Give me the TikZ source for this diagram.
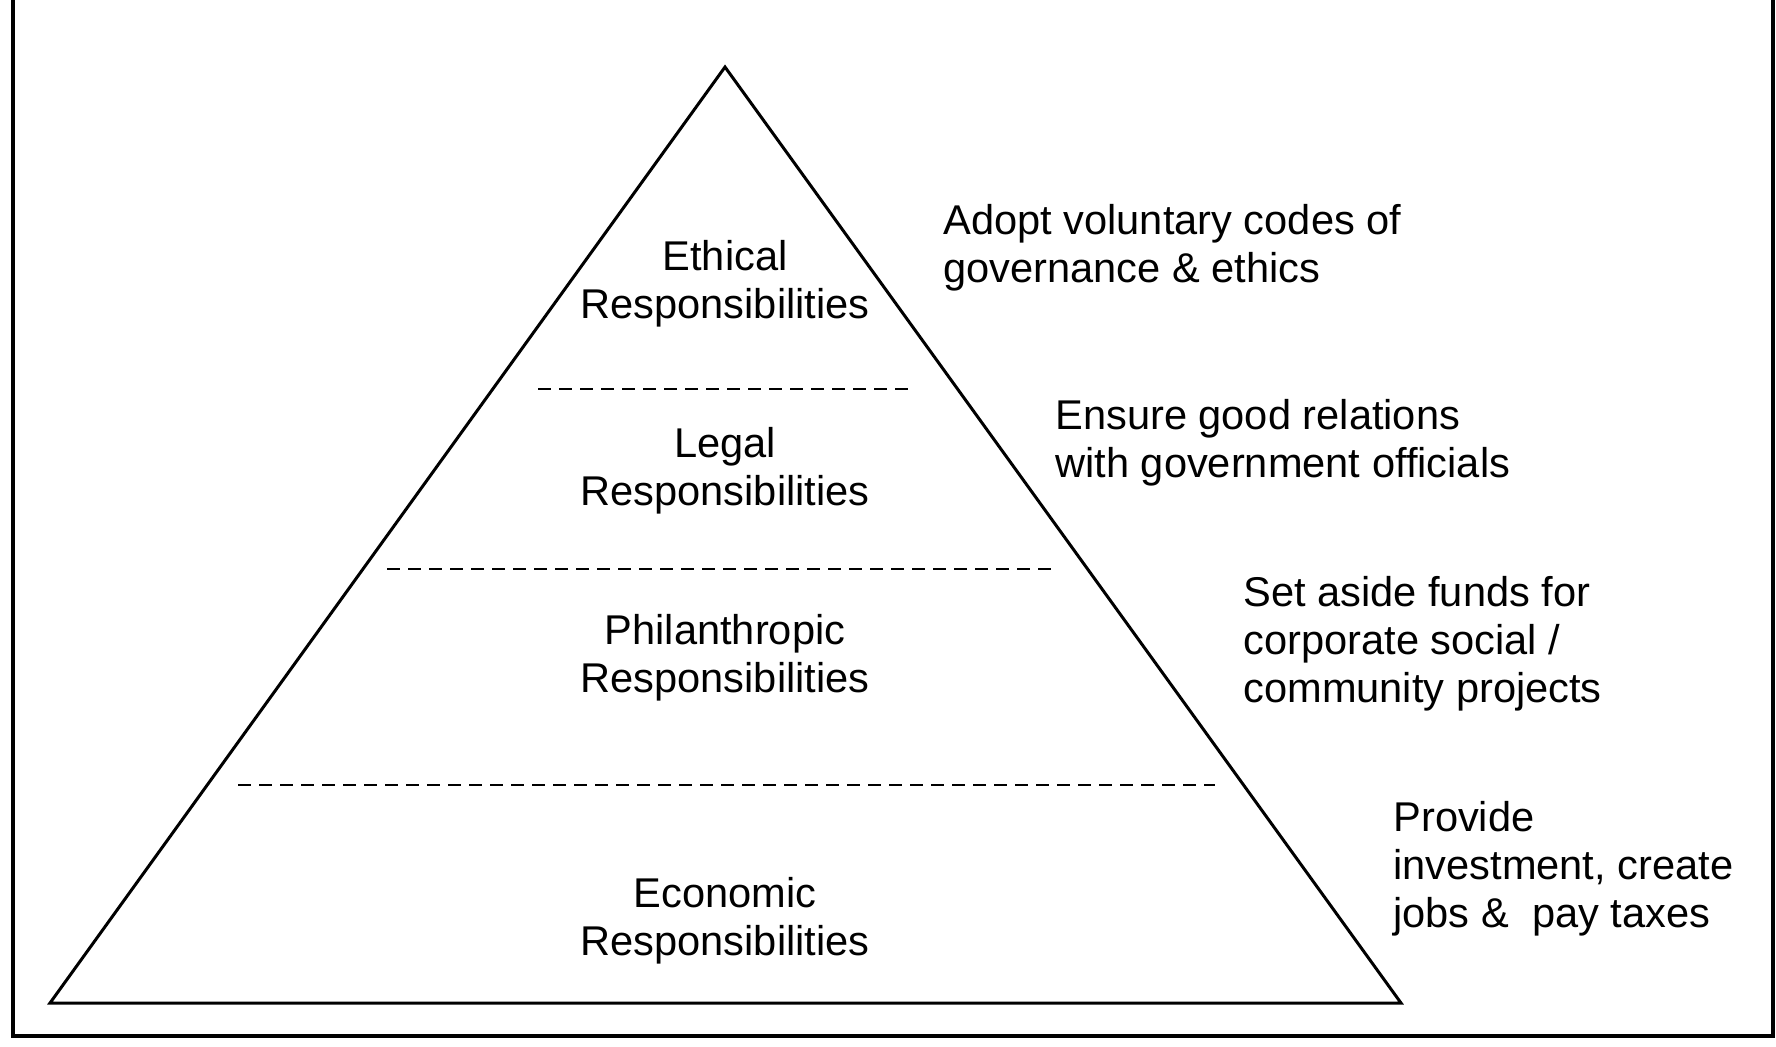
\documentclass[tikz,border=0pt]{standalone}
\usepackage{fontspec}
\setmainfont{Liberation Sans}
\usepackage{tikz}

\begin{document}
\begin{tikzpicture}[x=0.5pt, y=-0.5pt,
    tier/.style={align=center, anchor=base, inner sep=0pt, font=\fontsize{20.8}{24}\selectfont},
    note/.style={align=left, anchor=base west, inner sep=0pt, font=\fontsize{20.8}{24}\selectfont},
    divider/.style={line width=1.4pt, dash pattern=on 6.5pt off 4pt}]
    \useasboundingbox (0, 0) rectangle (1776, 1046);

    % frame, open at the top
    \draw[line width=2pt] (13, 0) -- (13, 1036) -- (1773, 1036) -- (1773, 0);

    % pyramid
    \coordinate (top) at (725, 67);
    \coordinate (bl) at (50, 1003);
    \coordinate (br) at (1401, 1003);
    \draw[line width=1.5pt, line join=miter] (top) -- (br) -- (bl) -- cycle;

    \draw[divider] (538, 389) -- (914, 389);
    \draw[divider] (387, 569) -- (1058, 569);
    \draw[divider] (238, 785) -- (1215, 785);

    % tiers (anchored at the last line)
    \node[tier] (ethical) at (725, 318) {Ethical\\Responsibilities};
    \node[tier] (legal) at (725, 505) {Legal\\Responsibilities};
    \node[tier] (phil) at (725, 692) {Philanthropic\\Responsibilities};
    \node[tier] (econ) at (725, 955) {Economic\\Responsibilities};

    \node[note] (ethicalnote) at (943, 282) {Adopt voluntary codes of\\governance \& ethics};
    \node[note] (legalnote) at (1055, 477) {Ensure good relations\\with government officials};
    \node[note] (philnote) at (1243, 702) {Set aside funds for\\corporate social /\\community projects};
    \node[note] (econnote) at (1393, 927) {Provide\\investment, create\\jobs \&\ \ pay taxes};
\end{tikzpicture}
\end{document}
